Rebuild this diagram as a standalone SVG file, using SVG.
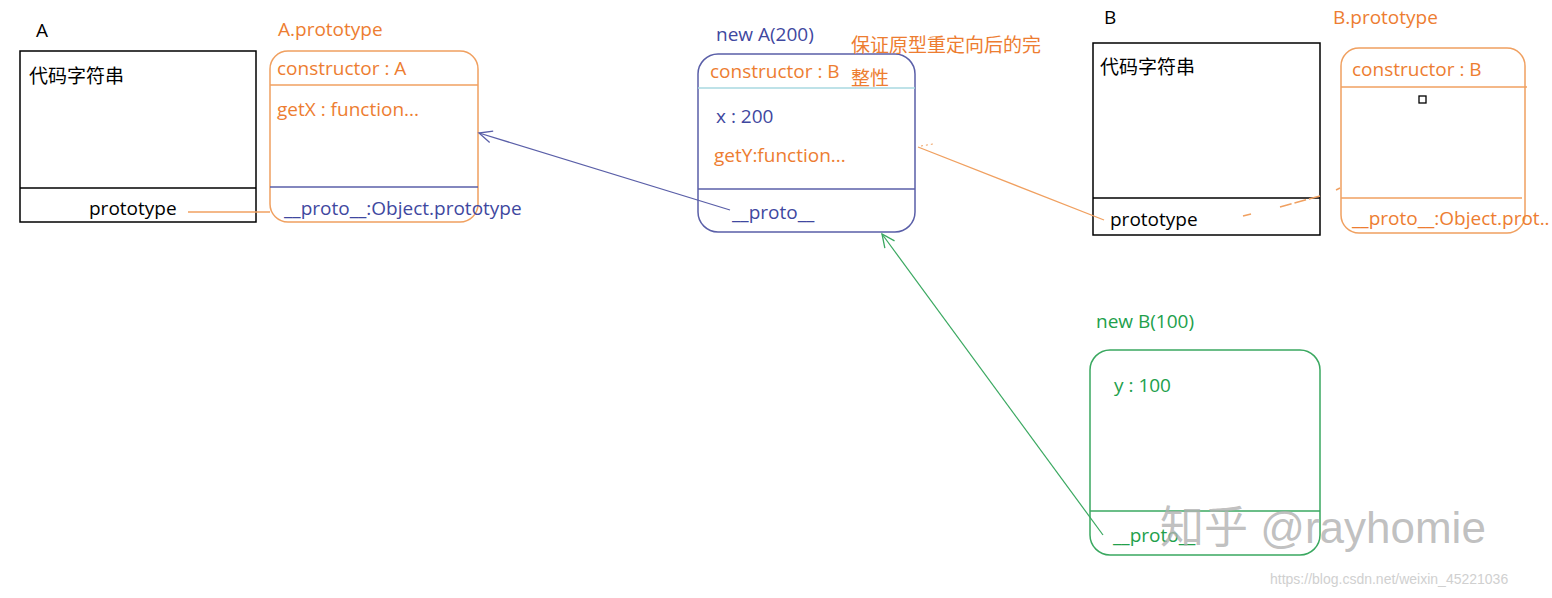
<svg xmlns="http://www.w3.org/2000/svg" width="1552" height="598" viewBox="0 0 1552 598">
<style>
text{font-family:"Open Sans","Noto Sans CJK SC",sans-serif;font-size:19px}
.k{fill:#000}.o{fill:#ed7d31}.b{fill:#3f48a0}.g{fill:#22a04b}
.bx{fill:none;stroke:#000;stroke-width:1.5}
.ob{fill:none;stroke:#f0a060;stroke-width:1.5}
.bb{fill:none;stroke:#5a5fa8;stroke-width:1.5}
.gb{fill:none;stroke:#3aa860;stroke-width:1.5}
</style>
<defs>
<marker id="ab" markerWidth="16" markerHeight="16" refX="14" refY="7" orient="auto" markerUnits="userSpaceOnUse"><path d="M1,1 L14,7 L1,13" fill="none" stroke="#5a5fa8" stroke-width="1.3"/></marker>
<marker id="ag" markerWidth="16" markerHeight="16" refX="14" refY="7" orient="auto" markerUnits="userSpaceOnUse"><path d="M1,1 L14,7 L1,13" fill="none" stroke="#3aa860" stroke-width="1.3"/></marker>
</defs>
<rect width="1552" height="598" fill="#fff"/>
<g id="nodeA">
<rect class="bx" x="20" y="51" width="236" height="171"/>
<line class="bx" x1="20" y1="188" x2="256" y2="188"/>
<text class="k" x="36" y="37">A</text>
<text class="k" x="29" y="83">代码字符串</text>
<text class="k" x="89" y="215">prototype</text>
</g>
<g id="nodeAproto">
<rect class="ob" x="270" y="51" width="208" height="171" rx="18"/>
<line class="ob" x1="270" y1="85" x2="478" y2="85"/>
<line class="bb" x1="270" y1="187" x2="478" y2="187"/>
<text class="o" x="278" y="36">A.prototype</text>
<text class="o" x="277" y="75">constructor : A</text>
<text class="o" x="277" y="116">getX : function...</text>
<text class="b" x="284" y="215">__proto__:Object.prototype</text>
</g>
<g id="nodeNewA">
<rect class="bb" x="698" y="54" width="217" height="178" rx="20"/>
<line x1="698" y1="88" x2="915" y2="88" stroke="#a8d8e0" stroke-width="1.5"/>
<line class="bb" x1="698" y1="189" x2="915" y2="189"/>
<text class="b" x="716" y="41">new A(200)</text>
<text class="o" x="710" y="78">constructor : B</text>
<text class="b" x="716" y="123">x : 200</text>
<text class="o" x="714" y="162">getY:function...</text>
<text class="b" x="732" y="219">__proto__</text>
</g>
<g id="note">
<text class="o" x="851" y="52">保证原型重定向后的完</text>
<text class="o" x="851" y="85">整性</text>
</g>
<g id="nodeB">
<rect class="bx" x="1093" y="43" width="227" height="192"/>
<line class="bx" x1="1093" y1="198" x2="1320" y2="198"/>
<text class="k" x="1104" y="24">B</text>
<text class="k" x="1100" y="74">代码字符串</text>
<text class="k" x="1110" y="226">prototype</text>
</g>
<g id="nodeBproto">
<rect class="ob" x="1341" y="48" width="184" height="185" rx="18"/>
<line class="ob" x1="1341" y1="87" x2="1527" y2="87"/>
<line class="ob" x1="1341" y1="198" x2="1522" y2="198"/>
<rect x="1419" y="96" width="7" height="7" fill="none" stroke="#000" stroke-width="1.3"/>
<text class="o" x="1333" y="24">B.prototype</text>
<text class="o" x="1352" y="76">constructor : B</text>
<text class="o" x="1352" y="225">__proto__:Object.prot..</text>
</g>
<g id="nodeNewB">
<rect class="gb" x="1090" y="350" width="230" height="205" rx="20"/>
<line class="gb" x1="1090" y1="511" x2="1320" y2="511"/>
<text class="g" x="1096" y="328">new B(100)</text>
<text class="g" x="1114" y="392">y : 100</text>
<text class="g" x="1113" y="542">__proto__</text>
</g>
<g id="connectors">
<line x1="188" y1="212" x2="270" y2="212" stroke="#f0a060" stroke-width="1.5"/>
<line x1="730" y1="210" x2="479" y2="133" stroke="#5a5fa8" stroke-width="1.3" marker-end="url(#ab)"/>
<line x1="1104" y1="220" x2="918" y2="147" stroke="#f0a060" stroke-width="1.3"/>
<line x1="921" y1="146" x2="933" y2="144" stroke="#f0a060" stroke-width="1" stroke-dasharray="2 3"/>
<line x1="1243" y1="216" x2="1251" y2="214" stroke="#f0a060" stroke-width="1.5"/>
<line x1="1280" y1="207" x2="1320" y2="196" stroke="#f0a060" stroke-width="1.5" stroke-dasharray="12 3"/>
<line x1="1336" y1="190" x2="1340" y2="188" stroke="#f0a060" stroke-width="1.5"/>
<line x1="1103" y1="535" x2="882" y2="234" stroke="#3aa860" stroke-width="1.2" marker-end="url(#ag)"/>
</g>
<g id="watermark">
<text x="1160" y="543" style="font-size:44px;font-family:'Liberation Sans','Noto Sans CJK SC',sans-serif" fill="#b0b0b0" fill-opacity="0.8">知乎 @rayhomie</text>
<text x="1270" y="584" style="font-size:14px;font-family:'Liberation Sans',sans-serif" fill="#d0d0d0">https://blog.csdn.net/weixin_45221036</text>
</g>
</svg>
